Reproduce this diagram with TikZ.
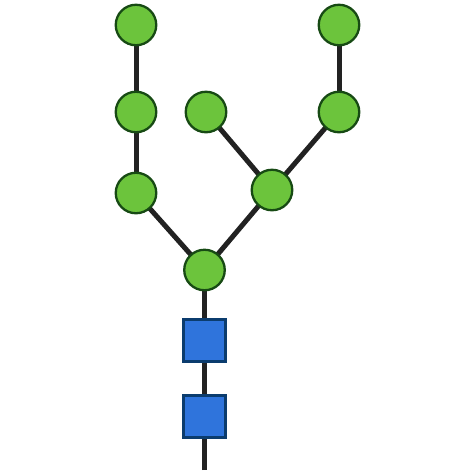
\documentclass[tikz,border=0pt]{standalone}
\usetikzlibrary{backgrounds}
\begin{document}
\definecolor{gfill}{HTML}{6CC43C}
\definecolor{gline}{HTML}{174A14}
\definecolor{bfill}{HTML}{2F74DC}
\definecolor{bline}{HTML}{0B3C6E}
\definecolor{edge}{HTML}{222222}
\begin{tikzpicture}[x=1pt,y=-1pt,
  gal/.style={circle,draw=gline,fill=gfill,line width=2.3pt,minimum size=40.5pt,inner sep=0pt},
  sq/.style={rectangle,draw=bline,fill=bfill,line width=2.7pt,minimum size=42pt,inner sep=0pt},
  link/.style={draw=edge,line width=5pt,shorten <=-3pt,shorten >=-3pt}]
\useasboundingbox (0,0) rectangle (475,475);
\coordinate (root) at (204.5,470);
\node[sq] (s2) at (204.5,416.5) {};
\node[sq] (s1) at (204.5,340.5) {};
\node[gal] (h) at (204.5,270) {};
\node[gal] (c) at (136,193) {};
\node[gal] (b) at (136,112) {};
\node[gal] (a) at (136,25) {};
\node[gal] (g) at (272,190) {};
\node[gal] (d) at (206,112) {};
\node[gal] (f) at (339,112) {};
\node[gal] (e) at (339,25) {};
\begin{scope}[on background layer]
\draw[draw=edge,line width=5pt] (root) -- (s2.center);
\draw[link] (s2) -- (s1);
\draw[link] (s1) -- (h);
\draw[link] (h) -- (c);
\draw[link] (c) -- (b);
\draw[link] (b) -- (a);
\draw[link] (h) -- (g);
\draw[link] (g) -- (d);
\draw[link] (g) -- (f);
\draw[link] (f) -- (e);
\end{scope}
\end{tikzpicture}
\end{document}
